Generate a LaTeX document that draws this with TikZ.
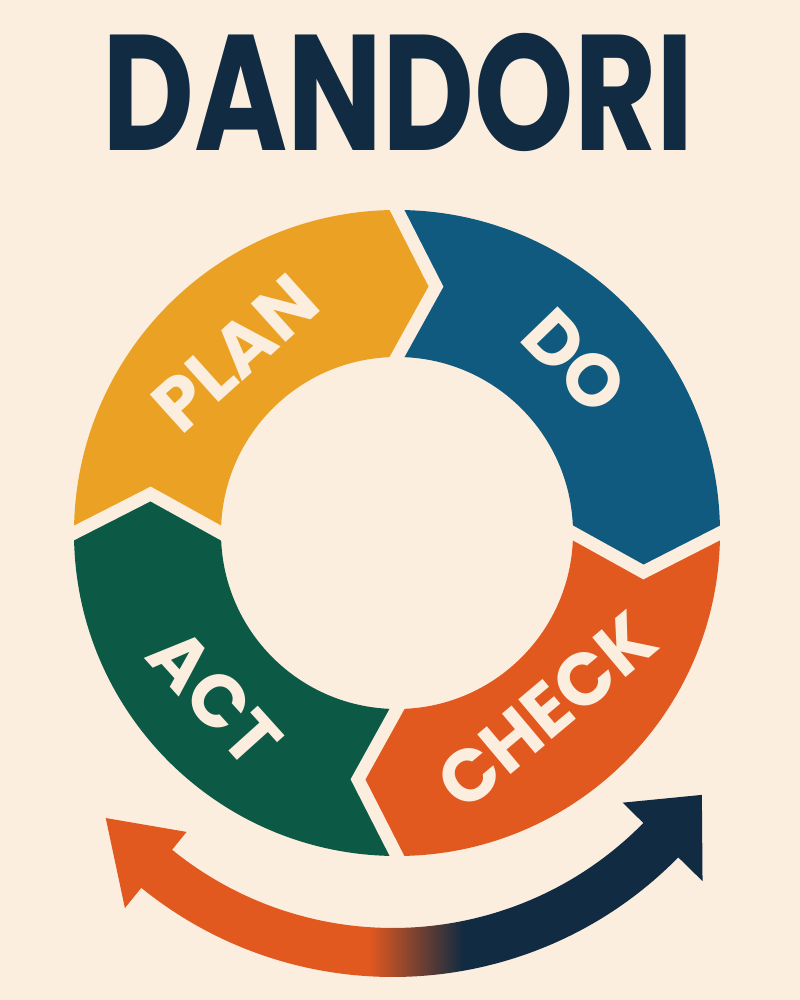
\documentclass[tikz,border=0pt]{standalone}
\usepackage{fontspec}
\newfontfamily\popfont{Poppins}

\definecolor{paper}{HTML}{FBEEDF}
\definecolor{planyellow}{HTML}{EBA124}
\definecolor{doblue}{HTML}{0F5A7E}
\definecolor{checkorange}{HTML}{E2591F}
\definecolor{actgreen}{HTML}{0C5A46}
\definecolor{navy}{HTML}{102B42}

\pgfdeclarehorizontalshading{cycleshade}{100bp}{color(0bp)=(checkorange); color(47bp)=(checkorange); color(55bp)=(navy); color(100bp)=(navy)}

\begin{document}
\begin{tikzpicture}[x=0.01cm, y=0.01cm,
    gap/.style={draw=paper, line width=0.13cm, line cap=rect, line join=miter},
    lbl/.style={text=paper, font=\popfont\bfseries\fontsize{21}{21}\selectfont}]
            \fill[paper] (0,0) rectangle (800,1000);
            \useasboundingbox (0,0) rectangle (800,1000);

            \node[text=navy, font=\popfont\bfseries\fontsize{36}{36}\selectfont] (title) at (398,908) {\scalebox{1}[1.3]{DANDORI}};

            % the cycle
            \begin{scope}[shift={(397,467)}]
                \foreach \col/\a/\b in {planyellow/180/90, doblue/90/0, checkorange/0/-90, actgreen/-90/-180}
                    \fill[\col] (\a:323) arc[start angle=\a, end angle=\b, radius=323] -- (\b-9:249.5) -- (\b:176)
                        arc[start angle=\b, end angle=\a, radius=176] -- (\a-9:249.5) -- cycle;
                \foreach \a in {90,0,-90,-180}
                    \draw[gap] (\a:323) -- (\a-9:249.5) -- (\a:176);

                \node[lbl, rotate=42] (plan) at (132:242) {PLAN};
                \node[lbl, rotate=-46] (do) at (44:247) {DO};
                \node[lbl, rotate=40] (check) at (-50:232) {CHECK};
                \node[lbl, rotate=-48] (act) at (222:245) {ACT};
            \end{scope}

            % return arrow
            \begin{scope}[shift={(393,423)}]
                \shade[shading=cycleshade] (220:375) -- (231:426) -- (231:400) arc[start angle=231, end angle=315.5, radius=400]
                    -- (315.5:434) -- (324.8:378) -- (315.5:322) -- (315.5:351) arc[start angle=315.5, end angle=231, radius=351]
                    -- (231:328) -- cycle;
            \end{scope}
        \end{tikzpicture}
\end{document}
